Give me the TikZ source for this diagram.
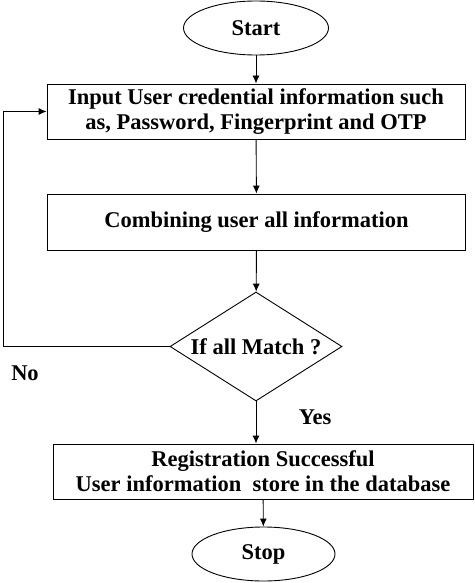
\documentclass[tikz,border=0pt]{standalone}
\usepackage{fontspec}
\setmainfont{Liberation Serif}
\usetikzlibrary{shapes.geometric,arrows.meta}

\begin{document}
\begin{tikzpicture}[x=1pt, y=-1pt, >={Latex[length=8pt,width=7pt]},
    every node/.style={font=\fontsize{22.5}{25}\selectfont\bfseries},
    term/.style={draw, ellipse, line width=0.9pt, minimum width=145pt, minimum height=54pt, inner sep=0pt},
    procbox/.style={draw, rectangle, line width=0.9pt, minimum width=418pt, minimum height=55pt, align=center, inner sep=0pt},
    decision/.style={draw, diamond, line width=0.9pt, shape aspect=1.58, minimum width=172pt, minimum height=109pt, inner sep=0pt}]

    % Fix the page size
    \useasboundingbox (0,0) rectangle (474,583);

    % Start and input
    \node[term] (start) at (256,28) {Start};
    \node[procbox] (input) at (256,111.5) {Input User credential information such\\as, Password, Fingerprint and OTP};

    % Combine step
    \node[procbox, minimum height=56pt] (combine) at (256.5,222) {Combining user all information};

    % Decision
    \node[decision] (match) at (256,346.5) {If all Match ?};

    % Success box and stop
    \node[procbox, minimum width=420pt] (register) at (263,471.5) {Registration Successful\\User information~ store in the database};
    \node[term, minimum width=143pt] (stop) at (263.5,554) {Stop};

    % Main flow
    \draw[->, line width=0.9pt] (start) -- (input);
    \draw[->, line width=0.9pt] (input) -- (combine);
    \draw[->, line width=0.9pt] (combine) -- (match);
    \draw[->, line width=0.9pt] (match.south) -- (match.south |- register.north);
    \draw[->, line width=0.9pt] (register) -- (stop);

    % Loop back when no match
    \coordinate (back) at (3,346.5);
    \draw[->, line width=0.9pt] (match.west) -- (back) |- (input.west);

    % Branch labels
    \node (no) at (25,373) {No};
    \node (yes) at (315,417) {Yes};

\end{tikzpicture}
\end{document}
